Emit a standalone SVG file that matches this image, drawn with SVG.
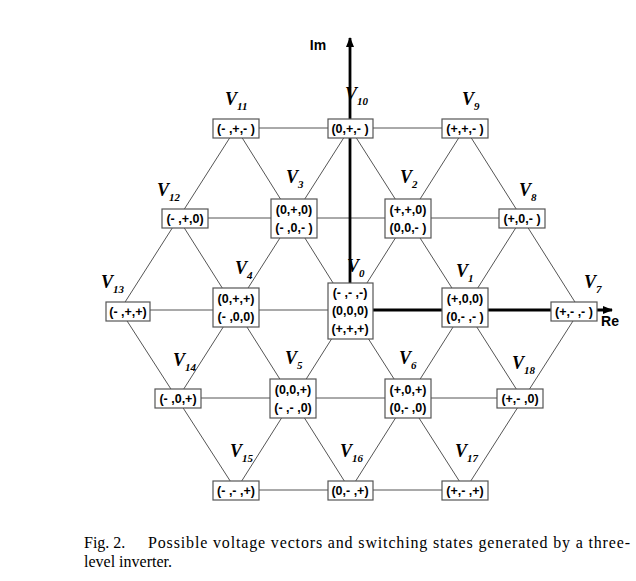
<svg xmlns="http://www.w3.org/2000/svg" width="636" height="581" viewBox="0 0 636 581">
<style>
.g{stroke:#555;stroke-width:1;fill:none}
.ax{stroke:#000;stroke-width:2.8;fill:none}
.b{fill:#fff;stroke:#555;stroke-width:1.2}
.t{font-family:"Liberation Sans",Arial,sans-serif;font-weight:bold;font-size:12.5px;text-anchor:middle}
.v{font-family:"Liberation Serif",serif;font-weight:bold;font-style:italic;font-size:18px}
.s{font-size:11px}
.c{font-family:"Liberation Serif",serif;font-size:16px}
</style>
<defs><marker id="ah" markerWidth="10" markerHeight="8" refX="9" refY="4" orient="auto" markerUnits="userSpaceOnUse"><path d="M0,0 L10,4 L0,8 Z" fill="#000"/></marker></defs>
<rect width="636" height="581" fill="#fff"/>
<g id="connectors">
<path class="g" d="M236,128H465 M178,218H522 M120,310H580 M178,398H522 M236,490H465"/>
<path class="g" d="M236,128L120,310 M350,128L178,398 M465,128L236,490 M522,218L350,490 M580,310L465,490"/>
<path class="g" d="M236,128L350,310L465,490 M350,128L522,398 M465,128L580,310 M178,218L350,490 M120,310L236,490"/>
<path class="ax" d="M350,283V38" marker-end="url(#ah)"/>
<path class="ax" d="M373,310H612" marker-end="url(#ah)"/>
<text x="318" y="50" class="t" style="font-size:14px">Im</text>
<text x="610" y="326" class="t" style="font-size:14px">Re</text>
</g>
<g id="V11"><rect class="b" x="213" y="119" width="46" height="19"/><text class="t" x="236" y="133">(- ,+,- )</text><text class="v" x="225" y="105">V<tspan class="s" dy="5">11</tspan></text></g>
<g id="V10"><rect class="b" x="328" y="119" width="45" height="19"/><text class="t" x="350" y="133">(0,+,- )</text><text class="v" x="345" y="100">V<tspan class="s" dy="5">10</tspan></text></g>
<g id="V9"><rect class="b" x="442" y="119" width="46" height="19"/><text class="t" x="465" y="133">(+,+,- )</text><text class="v" x="462" y="105">V<tspan class="s" dy="5">9</tspan></text></g>
<g id="V12"><rect class="b" x="162" y="209" width="46" height="19"/><text class="t" x="185" y="223">(- ,+,0)</text><text class="v" x="157" y="196">V<tspan class="s" dy="5">12</tspan></text></g>
<g id="V3"><rect class="b" x="271" y="199" width="46" height="39"/><text class="t" x="294" y="214">(0,+,0)</text><text class="t" x="294" y="232">(- ,0,- )</text><text class="v" x="286" y="183">V<tspan class="s" dy="5">3</tspan></text></g>
<g id="V2"><rect class="b" x="385" y="199" width="46" height="39"/><text class="t" x="408" y="214">(+,+,0)</text><text class="t" x="408" y="232">(0,0,- )</text><text class="v" x="400" y="183">V<tspan class="s" dy="5">2</tspan></text></g>
<g id="V8"><rect class="b" x="499" y="209" width="46" height="19"/><text class="t" x="522" y="223">(+,0,- )</text><text class="v" x="519" y="196">V<tspan class="s" dy="5">8</tspan></text></g>
<g id="V13"><rect class="b" x="106" y="302" width="44" height="19"/><text class="t" x="128" y="316">(- ,+,+)</text><text class="v" x="101" y="288">V<tspan class="s" dy="5">13</tspan></text></g>
<g id="V4"><rect class="b" x="213" y="288" width="46" height="39"/><text class="t" x="236" y="303">(0,+,+)</text><text class="t" x="236" y="321">(- ,0,0)</text><text class="v" x="235" y="274">V<tspan class="s" dy="5">4</tspan></text></g>
<g id="V0"><rect class="b" x="328" y="283" width="45" height="56"/><text class="t" x="350" y="297">(- ,- ,-)</text><text class="t" x="350" y="315">(0,0,0)</text><text class="t" x="350" y="333">(+,+,+)</text><text class="v" x="347" y="272">V<tspan class="s" dy="5">0</tspan></text></g>
<g id="V1"><rect class="b" x="442" y="288" width="46" height="39"/><text class="t" x="465" y="303">(+,0,0)</text><text class="t" x="465" y="321">(0,- ,- )</text><text class="v" x="456" y="277">V<tspan class="s" dy="5">1</tspan></text></g>
<g id="V7"><rect class="b" x="551" y="302" width="46" height="19"/><text class="t" x="574" y="316">(+,- ,- )</text><text class="v" x="584" y="288">V<tspan class="s" dy="5">7</tspan></text></g>
<g id="V14"><rect class="b" x="155" y="389" width="46" height="19"/><text class="t" x="178" y="403">(- ,0,+)</text><text class="v" x="173" y="366">V<tspan class="s" dy="5">14</tspan></text></g>
<g id="V5"><rect class="b" x="270" y="379" width="46" height="39"/><text class="t" x="293" y="394">(0,0,+)</text><text class="t" x="293" y="412">(- ,- ,0)</text><text class="v" x="285" y="364">V<tspan class="s" dy="5">5</tspan></text></g>
<g id="V6"><rect class="b" x="385" y="379" width="46" height="39"/><text class="t" x="408" y="394">(+,0,+)</text><text class="t" x="408" y="412">(0,- ,0)</text><text class="v" x="399" y="364">V<tspan class="s" dy="5">6</tspan></text></g>
<g id="V18"><rect class="b" x="497" y="389" width="46" height="19"/><text class="t" x="520" y="403">(+,- ,0)</text><text class="v" x="512" y="369">V<tspan class="s" dy="5">18</tspan></text></g>
<g id="V15"><rect class="b" x="213" y="481" width="46" height="19"/><text class="t" x="236" y="495">(- ,- ,+)</text><text class="v" x="230" y="457">V<tspan class="s" dy="5">15</tspan></text></g>
<g id="V16"><rect class="b" x="328" y="481" width="45" height="19"/><text class="t" x="350" y="495">(0,- ,+)</text><text class="v" x="340" y="457">V<tspan class="s" dy="5">16</tspan></text></g>
<g id="V17"><rect class="b" x="442" y="481" width="46" height="19"/><text class="t" x="465" y="495">(+,- ,+)</text><text class="v" x="455" y="457">V<tspan class="s" dy="5">17</tspan></text></g>
<text class="c" x="84" y="548">Fig. 2.</text>
<text class="c" x="148" y="548" textLength="482" lengthAdjust="spacing">Possible voltage vectors and switching states generated by a three-</text>
<text class="c" x="84" y="567">level inverter.</text>
</svg>
